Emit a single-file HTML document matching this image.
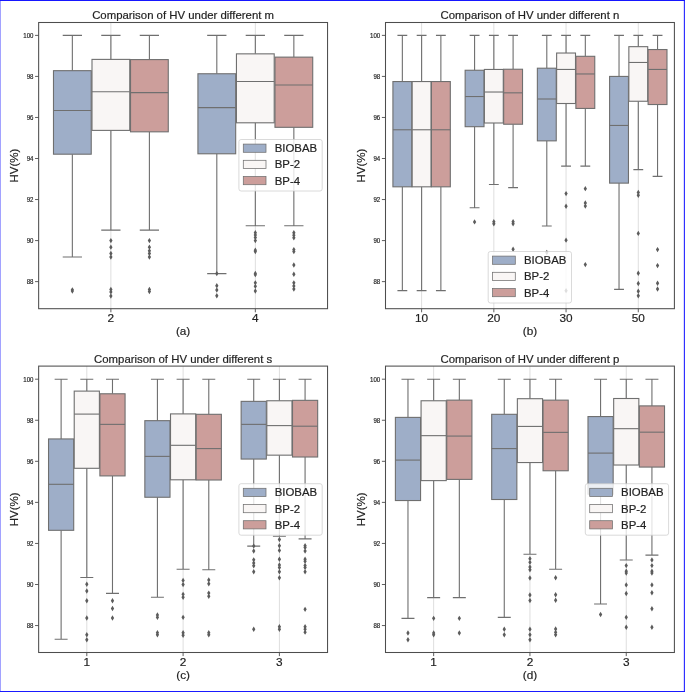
<!DOCTYPE html>
<html lang="en"><head><meta charset="utf-8"><title>Comparison of HV</title>
<style>html,body{margin:0;padding:0;background:#fff;}body{width:685px;height:692px;overflow:hidden;}svg{display:block;}text{font-family:"Liberation Sans", sans-serif;fill:#222222;stroke:#222222;stroke-width:0.18px;}</style>
</head><body>
<svg width="685" height="692" viewBox="0 0 685 692">
<rect x="0" y="0" width="685" height="692" fill="#ffffff"/>
<rect x="0" y="0" width="1" height="692" fill="#a2a2ff"/>
<rect x="684" y="0" width="1" height="692" fill="#3030ff"/>
<rect x="683.5" y="0" width="0.5" height="692" fill="#3030ff" opacity="0.35"/>
<rect x="0" y="0" width="685" height="1" fill="#1616ff"/>
<rect x="0" y="691" width="685" height="1" fill="#1a1aff"/>
<g id="panel-a">
<line x1="110.88" y1="22.5" x2="110.88" y2="308.7" stroke="#dedede" stroke-width="1"/>
<line x1="255.33" y1="22.5" x2="255.33" y2="308.7" stroke="#dedede" stroke-width="1"/>
<path d="M72.35 35.38V70.67M72.35 154.19V257M62.72 35.38H81.99M62.72 257H81.99" fill="none" stroke="#6f6f6f" stroke-width="1.1"/><rect x="53.48" y="70.67" width="37.75" height="83.52" fill="#9eaec8" stroke="#6f6f6f" stroke-width="1.1"/><line x1="53.48" y1="110.48" x2="91.23" y2="110.48" stroke="#6f6f6f" stroke-width="1.1"/><path d="M72.35 287.13l1.65 2.7l-1.65 2.7l-1.65 -2.7zM72.35 288.36l1.65 2.7l-1.65 2.7l-1.65 -2.7z" fill="#5c5c5c"/>
<path d="M110.88 35.38V59.39M110.88 130.39V230.11M101.24 35.38H120.51M101.24 230.11H120.51" fill="none" stroke="#6f6f6f" stroke-width="1.1"/><rect x="92" y="59.39" width="37.75" height="71" fill="#f9f6f5" stroke="#6f6f6f" stroke-width="1.1"/><line x1="92" y1="91.81" x2="129.75" y2="91.81" stroke="#6f6f6f" stroke-width="1.1"/><path d="M110.88 237.88l1.65 2.7l-1.65 2.7l-1.65 -2.7zM110.88 244.45l1.65 2.7l-1.65 2.7l-1.65 -2.7zM110.88 250.81l1.65 2.7l-1.65 2.7l-1.65 -2.7zM110.88 254.3l1.65 2.7l-1.65 2.7l-1.65 -2.7zM110.88 286.72l1.65 2.7l-1.65 2.7l-1.65 -2.7zM110.88 289.18l1.65 2.7l-1.65 2.7l-1.65 -2.7zM110.88 293.28l1.65 2.7l-1.65 2.7l-1.65 -2.7z" fill="#5c5c5c"/>
<path d="M149.4 35.38V59.59M149.4 131.82V230.11M139.76 35.38H159.03M139.76 230.11H159.03" fill="none" stroke="#6f6f6f" stroke-width="1.1"/><rect x="130.52" y="59.59" width="37.75" height="72.23" fill="#cc9e9b" stroke="#6f6f6f" stroke-width="1.1"/><line x1="130.52" y1="92.63" x2="168.27" y2="92.63" stroke="#6f6f6f" stroke-width="1.1"/><path d="M149.4 237.88l1.65 2.7l-1.65 2.7l-1.65 -2.7zM149.4 244.45l1.65 2.7l-1.65 2.7l-1.65 -2.7zM149.4 248.14l1.65 2.7l-1.65 2.7l-1.65 -2.7zM149.4 250.81l1.65 2.7l-1.65 2.7l-1.65 -2.7zM149.4 254.3l1.65 2.7l-1.65 2.7l-1.65 -2.7zM149.4 286.72l1.65 2.7l-1.65 2.7l-1.65 -2.7zM149.4 288.77l1.65 2.7l-1.65 2.7l-1.65 -2.7z" fill="#5c5c5c"/>
<path d="M216.81 35.38V73.75M216.81 153.78V273.62M207.17 35.38H226.44M207.17 273.62H226.44" fill="none" stroke="#6f6f6f" stroke-width="1.1"/><rect x="197.93" y="73.75" width="37.75" height="80.03" fill="#9eaec8" stroke="#6f6f6f" stroke-width="1.1"/><line x1="197.93" y1="107.61" x2="235.68" y2="107.61" stroke="#6f6f6f" stroke-width="1.1"/><path d="M216.81 270.92l1.65 2.7l-1.65 2.7l-1.65 -2.7zM216.81 283.02l1.65 2.7l-1.65 2.7l-1.65 -2.7zM216.81 287.33l1.65 2.7l-1.65 2.7l-1.65 -2.7zM216.81 293.08l1.65 2.7l-1.65 2.7l-1.65 -2.7z" fill="#5c5c5c"/>
<path d="M255.33 35.38V53.85M255.33 122.8V225.81M245.69 35.38H264.96M245.69 225.81H264.96" fill="none" stroke="#6f6f6f" stroke-width="1.1"/><rect x="236.45" y="53.85" width="37.75" height="68.95" fill="#f9f6f5" stroke="#6f6f6f" stroke-width="1.1"/><line x1="236.45" y1="81.55" x2="274.2" y2="81.55" stroke="#6f6f6f" stroke-width="1.1"/><path d="M255.33 230.08l1.65 2.7l-1.65 2.7l-1.65 -2.7zM255.33 232.34l1.65 2.7l-1.65 2.7l-1.65 -2.7zM255.33 234.8l1.65 2.7l-1.65 2.7l-1.65 -2.7zM255.33 237.88l1.65 2.7l-1.65 2.7l-1.65 -2.7zM255.33 247.52l1.65 2.7l-1.65 2.7l-1.65 -2.7zM255.33 248.76l1.65 2.7l-1.65 2.7l-1.65 -2.7zM255.33 270.71l1.65 2.7l-1.65 2.7l-1.65 -2.7zM255.33 271.94l1.65 2.7l-1.65 2.7l-1.65 -2.7zM255.33 280.15l1.65 2.7l-1.65 2.7l-1.65 -2.7zM255.33 283.64l1.65 2.7l-1.65 2.7l-1.65 -2.7zM255.33 288.36l1.65 2.7l-1.65 2.7l-1.65 -2.7z" fill="#5c5c5c"/>
<path d="M293.85 35.38V57.13M293.85 127.31V225.81M284.21 35.38H303.48M284.21 225.81H303.48" fill="none" stroke="#6f6f6f" stroke-width="1.1"/><rect x="274.97" y="57.13" width="37.75" height="70.18" fill="#cc9e9b" stroke="#6f6f6f" stroke-width="1.1"/><line x1="274.97" y1="85.04" x2="312.72" y2="85.04" stroke="#6f6f6f" stroke-width="1.1"/><path d="M293.85 230.08l1.65 2.7l-1.65 2.7l-1.65 -2.7zM293.85 232.54l1.65 2.7l-1.65 2.7l-1.65 -2.7zM293.85 235.01l1.65 2.7l-1.65 2.7l-1.65 -2.7zM293.85 246.91l1.65 2.7l-1.65 2.7l-1.65 -2.7zM293.85 248.76l1.65 2.7l-1.65 2.7l-1.65 -2.7zM293.85 262.3l1.65 2.7l-1.65 2.7l-1.65 -2.7zM293.85 271.53l1.65 2.7l-1.65 2.7l-1.65 -2.7zM293.85 280.15l1.65 2.7l-1.65 2.7l-1.65 -2.7zM293.85 283.23l1.65 2.7l-1.65 2.7l-1.65 -2.7zM293.85 286.31l1.65 2.7l-1.65 2.7l-1.65 -2.7z" fill="#5c5c5c"/>
<rect x="38.65" y="22.5" width="288.9" height="286.2" fill="none" stroke="#4d4d4d" stroke-width="1.05"/>
<path d="M38.65 281.62h-3.6M38.65 240.58h-3.6M38.65 199.54h-3.6M38.65 158.5h-3.6M38.65 117.46h-3.6M38.65 76.42h-3.6M38.65 35.38h-3.6M110.88 308.7v3.6M255.33 308.7v3.6" fill="none" stroke="#4d4d4d" stroke-width="0.9"/>
<text transform="translate(33.4 283.92) scale(0.89 1)" font-size="6.85" text-anchor="end">88</text>
<text transform="translate(33.4 242.88) scale(0.89 1)" font-size="6.85" text-anchor="end">90</text>
<text transform="translate(33.4 201.84) scale(0.89 1)" font-size="6.85" text-anchor="end">92</text>
<text transform="translate(33.4 160.8) scale(0.89 1)" font-size="6.85" text-anchor="end">94</text>
<text transform="translate(33.4 119.76) scale(0.89 1)" font-size="6.85" text-anchor="end">96</text>
<text transform="translate(33.4 78.72) scale(0.89 1)" font-size="6.85" text-anchor="end">98</text>
<text transform="translate(33.4 37.68) scale(0.89 1)" font-size="6.85" text-anchor="end">100</text>
<text x="110.88" y="322.4" font-size="11.8" text-anchor="middle">2</text>
<text x="255.33" y="322.4" font-size="11.8" text-anchor="middle">4</text>
<text x="183.1" y="18.9" font-size="11.38" text-anchor="middle">Comparison of HV under different m</text>
<text x="183.1" y="335.2" font-size="11.8" text-anchor="middle">(a)</text>
<text transform="translate(18.15 165.6) rotate(-90)" font-size="11.5" text-anchor="middle">HV(%)</text>
<rect x="238.9" y="139.5" width="83.3" height="51.5" rx="2.2" ry="2.2" fill="#ffffff" fill-opacity="0.8" stroke="#cccccc" stroke-opacity="0.8" stroke-width="0.9"/>
<rect x="243.3" y="144.1" width="22.7" height="8.2" fill="#9eaec8" stroke="#6f6f6f" stroke-width="0.75"/>
<text x="274.7" y="152.15" font-size="11.4">BIOBAB</text>
<rect x="243.3" y="160.3" width="22.7" height="8.2" fill="#f9f6f5" stroke="#6f6f6f" stroke-width="0.75"/>
<text x="274.7" y="168.35" font-size="11.4">BP-2</text>
<rect x="243.3" y="176.5" width="22.7" height="8.2" fill="#cc9e9b" stroke="#6f6f6f" stroke-width="0.75"/>
<text x="274.7" y="184.55" font-size="11.4">BP-4</text>
</g>
<g id="panel-b">
<line x1="421.61" y1="22.5" x2="421.61" y2="308.7" stroke="#dedede" stroke-width="1"/>
<line x1="493.84" y1="22.5" x2="493.84" y2="308.7" stroke="#dedede" stroke-width="1"/>
<line x1="566.06" y1="22.5" x2="566.06" y2="308.7" stroke="#dedede" stroke-width="1"/>
<line x1="638.29" y1="22.5" x2="638.29" y2="308.7" stroke="#dedede" stroke-width="1"/>
<path d="M402.35 35.38V81.55M402.35 186.82V290.65M397.43 35.38H407.27M397.43 290.65H407.27" fill="none" stroke="#6f6f6f" stroke-width="1.1"/><rect x="392.92" y="81.55" width="18.87" height="105.27" fill="#9eaec8" stroke="#6f6f6f" stroke-width="1.1"/><line x1="392.92" y1="129.77" x2="411.79" y2="129.77" stroke="#6f6f6f" stroke-width="1.1"/>
<path d="M421.61 35.38V81.55M421.61 186.82V290.65M416.69 35.38H426.53M416.69 290.65H426.53" fill="none" stroke="#6f6f6f" stroke-width="1.1"/><rect x="412.18" y="81.55" width="18.87" height="105.27" fill="#f9f6f5" stroke="#6f6f6f" stroke-width="1.1"/><line x1="412.18" y1="129.77" x2="431.05" y2="129.77" stroke="#6f6f6f" stroke-width="1.1"/>
<path d="M440.87 35.38V81.55M440.87 186.82V290.65M435.95 35.38H445.79M435.95 290.65H445.79" fill="none" stroke="#6f6f6f" stroke-width="1.1"/><rect x="431.44" y="81.55" width="18.87" height="105.27" fill="#cc9e9b" stroke="#6f6f6f" stroke-width="1.1"/><line x1="431.44" y1="129.77" x2="450.31" y2="129.77" stroke="#6f6f6f" stroke-width="1.1"/>
<path d="M474.58 35.38V70.26M474.58 126.69V207.75M469.66 35.38H479.5M469.66 207.75H479.5" fill="none" stroke="#6f6f6f" stroke-width="1.1"/><rect x="465.14" y="70.26" width="18.87" height="56.43" fill="#9eaec8" stroke="#6f6f6f" stroke-width="1.1"/><line x1="465.14" y1="96.53" x2="484.01" y2="96.53" stroke="#6f6f6f" stroke-width="1.1"/><path d="M474.58 219.21l1.65 2.7l-1.65 2.7l-1.65 -2.7z" fill="#5c5c5c"/>
<path d="M493.84 35.38V69.44M493.84 123V184.56M488.92 35.38H498.76M488.92 184.56H498.76" fill="none" stroke="#6f6f6f" stroke-width="1.1"/><rect x="484.4" y="69.44" width="18.87" height="53.56" fill="#f9f6f5" stroke="#6f6f6f" stroke-width="1.1"/><line x1="484.4" y1="92.02" x2="503.27" y2="92.02" stroke="#6f6f6f" stroke-width="1.1"/><path d="M493.84 219l1.65 2.7l-1.65 2.7l-1.65 -2.7zM493.84 221.05l1.65 2.7l-1.65 2.7l-1.65 -2.7z" fill="#5c5c5c"/>
<path d="M513.1 35.38V69.24M513.1 124.23V187.64M508.18 35.38H518.02M508.18 187.64H518.02" fill="none" stroke="#6f6f6f" stroke-width="1.1"/><rect x="503.66" y="69.24" width="18.87" height="54.99" fill="#cc9e9b" stroke="#6f6f6f" stroke-width="1.1"/><line x1="503.66" y1="92.84" x2="522.53" y2="92.84" stroke="#6f6f6f" stroke-width="1.1"/><path d="M513.1 219l1.65 2.7l-1.65 2.7l-1.65 -2.7zM513.1 221.05l1.65 2.7l-1.65 2.7l-1.65 -2.7zM513.1 246.5l1.65 2.7l-1.65 2.7l-1.65 -2.7z" fill="#5c5c5c"/>
<path d="M546.8 35.38V68.21M546.8 140.85V226.01M541.88 35.38H551.72M541.88 226.01H551.72" fill="none" stroke="#6f6f6f" stroke-width="1.1"/><rect x="537.37" y="68.21" width="18.87" height="72.64" fill="#9eaec8" stroke="#6f6f6f" stroke-width="1.1"/><line x1="537.37" y1="98.99" x2="556.24" y2="98.99" stroke="#6f6f6f" stroke-width="1.1"/><path d="M546.8 249.78l1.65 2.7l-1.65 2.7l-1.65 -2.7zM546.8 293.28l1.65 2.7l-1.65 2.7l-1.65 -2.7z" fill="#5c5c5c"/>
<path d="M566.06 35.38V53.03M566.06 103.51V166.09M561.14 35.38H570.98M561.14 166.09H570.98" fill="none" stroke="#6f6f6f" stroke-width="1.1"/><rect x="556.63" y="53.03" width="18.87" height="50.48" fill="#f9f6f5" stroke="#6f6f6f" stroke-width="1.1"/><line x1="556.63" y1="69.44" x2="575.5" y2="69.44" stroke="#6f6f6f" stroke-width="1.1"/><path d="M566.06 190.89l1.65 2.7l-1.65 2.7l-1.65 -2.7zM566.06 203.61l1.65 2.7l-1.65 2.7l-1.65 -2.7zM566.06 237.47l1.65 2.7l-1.65 2.7l-1.65 -2.7zM566.06 287.95l1.65 2.7l-1.65 2.7l-1.65 -2.7z" fill="#5c5c5c"/>
<path d="M585.32 35.38V56.31M585.32 108.43V166.09M580.4 35.38H590.24M580.4 166.09H590.24" fill="none" stroke="#6f6f6f" stroke-width="1.1"/><rect x="575.89" y="56.31" width="18.87" height="52.12" fill="#cc9e9b" stroke="#6f6f6f" stroke-width="1.1"/><line x1="575.89" y1="73.96" x2="594.76" y2="73.96" stroke="#6f6f6f" stroke-width="1.1"/><path d="M585.32 185.96l1.65 2.7l-1.65 2.7l-1.65 -2.7zM585.32 200.33l1.65 2.7l-1.65 2.7l-1.65 -2.7zM585.32 203.41l1.65 2.7l-1.65 2.7l-1.65 -2.7zM585.32 261.89l1.65 2.7l-1.65 2.7l-1.65 -2.7z" fill="#5c5c5c"/>
<path d="M619.03 35.38V76.42M619.03 183.12V289.42M614.11 35.38H623.95M614.11 289.42H623.95" fill="none" stroke="#6f6f6f" stroke-width="1.1"/><rect x="609.59" y="76.42" width="18.87" height="106.7" fill="#9eaec8" stroke="#6f6f6f" stroke-width="1.1"/><line x1="609.59" y1="125.46" x2="628.46" y2="125.46" stroke="#6f6f6f" stroke-width="1.1"/>
<path d="M638.29 35.38V46.67M638.29 101.25V169.58M633.37 35.38H643.21M633.37 169.58H643.21" fill="none" stroke="#6f6f6f" stroke-width="1.1"/><rect x="628.85" y="46.67" width="18.87" height="54.58" fill="#f9f6f5" stroke="#6f6f6f" stroke-width="1.1"/><line x1="628.85" y1="62.47" x2="647.72" y2="62.47" stroke="#6f6f6f" stroke-width="1.1"/><path d="M638.29 189.86l1.65 2.7l-1.65 2.7l-1.65 -2.7zM638.29 192.53l1.65 2.7l-1.65 2.7l-1.65 -2.7zM638.29 230.7l1.65 2.7l-1.65 2.7l-1.65 -2.7zM638.29 270.51l1.65 2.7l-1.65 2.7l-1.65 -2.7zM638.29 280.77l1.65 2.7l-1.65 2.7l-1.65 -2.7zM638.29 288.56l1.65 2.7l-1.65 2.7l-1.65 -2.7zM638.29 293.08l1.65 2.7l-1.65 2.7l-1.65 -2.7z" fill="#5c5c5c"/>
<path d="M657.55 35.38V49.54M657.55 104.53V176.35M652.63 35.38H662.47M652.63 176.35H662.47" fill="none" stroke="#6f6f6f" stroke-width="1.1"/><rect x="648.11" y="49.54" width="18.87" height="54.99" fill="#cc9e9b" stroke="#6f6f6f" stroke-width="1.1"/><line x1="648.11" y1="69.44" x2="666.98" y2="69.44" stroke="#6f6f6f" stroke-width="1.1"/><path d="M657.55 246.91l1.65 2.7l-1.65 2.7l-1.65 -2.7zM657.55 262.91l1.65 2.7l-1.65 2.7l-1.65 -2.7zM657.55 280.56l1.65 2.7l-1.65 2.7l-1.65 -2.7zM657.55 286.31l1.65 2.7l-1.65 2.7l-1.65 -2.7z" fill="#5c5c5c"/>
<rect x="385.5" y="22.5" width="288.9" height="286.2" fill="none" stroke="#4d4d4d" stroke-width="1.05"/>
<path d="M385.5 281.62h-3.6M385.5 240.58h-3.6M385.5 199.54h-3.6M385.5 158.5h-3.6M385.5 117.46h-3.6M385.5 76.42h-3.6M385.5 35.38h-3.6M421.61 308.7v3.6M493.84 308.7v3.6M566.06 308.7v3.6M638.29 308.7v3.6" fill="none" stroke="#4d4d4d" stroke-width="0.9"/>
<text transform="translate(380.25 283.92) scale(0.89 1)" font-size="6.85" text-anchor="end">88</text>
<text transform="translate(380.25 242.88) scale(0.89 1)" font-size="6.85" text-anchor="end">90</text>
<text transform="translate(380.25 201.84) scale(0.89 1)" font-size="6.85" text-anchor="end">92</text>
<text transform="translate(380.25 160.8) scale(0.89 1)" font-size="6.85" text-anchor="end">94</text>
<text transform="translate(380.25 119.76) scale(0.89 1)" font-size="6.85" text-anchor="end">96</text>
<text transform="translate(380.25 78.72) scale(0.89 1)" font-size="6.85" text-anchor="end">98</text>
<text transform="translate(380.25 37.68) scale(0.89 1)" font-size="6.85" text-anchor="end">100</text>
<text x="421.61" y="322.4" font-size="11.8" text-anchor="middle">10</text>
<text x="493.84" y="322.4" font-size="11.8" text-anchor="middle">20</text>
<text x="566.06" y="322.4" font-size="11.8" text-anchor="middle">30</text>
<text x="638.29" y="322.4" font-size="11.8" text-anchor="middle">50</text>
<text x="529.95" y="18.9" font-size="11.38" text-anchor="middle">Comparison of HV under different n</text>
<text x="529.95" y="335.2" font-size="11.8" text-anchor="middle">(b)</text>
<text transform="translate(365 165.6) rotate(-90)" font-size="11.5" text-anchor="middle">HV(%)</text>
<rect x="488.2" y="251.5" width="83.3" height="51.5" rx="2.2" ry="2.2" fill="#ffffff" fill-opacity="0.8" stroke="#cccccc" stroke-opacity="0.8" stroke-width="0.9"/>
<rect x="492.6" y="256.1" width="22.7" height="8.2" fill="#9eaec8" stroke="#6f6f6f" stroke-width="0.75"/>
<text x="524" y="264.15" font-size="11.4">BIOBAB</text>
<rect x="492.6" y="272.3" width="22.7" height="8.2" fill="#f9f6f5" stroke="#6f6f6f" stroke-width="0.75"/>
<text x="524" y="280.35" font-size="11.4">BP-2</text>
<rect x="492.6" y="288.5" width="22.7" height="8.2" fill="#cc9e9b" stroke="#6f6f6f" stroke-width="0.75"/>
<text x="524" y="296.55" font-size="11.4">BP-4</text>
</g>
<g id="panel-c">
<line x1="86.8" y1="366.1" x2="86.8" y2="652.5" stroke="#dedede" stroke-width="1"/>
<line x1="183.1" y1="366.1" x2="183.1" y2="652.5" stroke="#dedede" stroke-width="1"/>
<line x1="279.4" y1="366.1" x2="279.4" y2="652.5" stroke="#dedede" stroke-width="1"/>
<path d="M61.12 379.2V438.94M61.12 530.3V639.32M54.63 379.2H67.61M54.63 639.32H67.61" fill="none" stroke="#6f6f6f" stroke-width="1.1"/><rect x="48.54" y="438.94" width="25.17" height="91.36" fill="#9eaec8" stroke="#6f6f6f" stroke-width="1.1"/><line x1="48.54" y1="484.31" x2="73.7" y2="484.31" stroke="#6f6f6f" stroke-width="1.1"/>
<path d="M86.8 379.2V391.11M86.8 468.3V577.52M80.31 379.2H93.29M80.31 577.52H93.29" fill="none" stroke="#6f6f6f" stroke-width="1.1"/><rect x="74.22" y="391.11" width="25.17" height="77.19" fill="#f9f6f5" stroke="#6f6f6f" stroke-width="1.1"/><line x1="74.22" y1="414.1" x2="99.38" y2="414.1" stroke="#6f6f6f" stroke-width="1.1"/><path d="M86.8 581.59l1.65 2.7l-1.65 2.7l-1.65 -2.7zM86.8 588.37l1.65 2.7l-1.65 2.7l-1.65 -2.7zM86.8 598.02l1.65 2.7l-1.65 2.7l-1.65 -2.7zM86.8 615.26l1.65 2.7l-1.65 2.7l-1.65 -2.7zM86.8 632.1l1.65 2.7l-1.65 2.7l-1.65 -2.7zM86.8 637.03l1.65 2.7l-1.65 2.7l-1.65 -2.7z" fill="#5c5c5c"/>
<path d="M112.48 379.2V393.78M112.48 475.9V593.33M105.99 379.2H118.97M105.99 593.33H118.97" fill="none" stroke="#6f6f6f" stroke-width="1.1"/><rect x="99.9" y="393.78" width="25.17" height="82.12" fill="#cc9e9b" stroke="#6f6f6f" stroke-width="1.1"/><line x1="99.9" y1="424.37" x2="125.06" y2="424.37" stroke="#6f6f6f" stroke-width="1.1"/><path d="M112.48 598.02l1.65 2.7l-1.65 2.7l-1.65 -2.7zM112.48 605.82l1.65 2.7l-1.65 2.7l-1.65 -2.7zM112.48 615.26l1.65 2.7l-1.65 2.7l-1.65 -2.7z" fill="#5c5c5c"/>
<path d="M157.42 379.2V420.67M157.42 497.25V597.23M150.93 379.2H163.91M150.93 597.23H163.91" fill="none" stroke="#6f6f6f" stroke-width="1.1"/><rect x="144.84" y="420.67" width="25.17" height="76.58" fill="#9eaec8" stroke="#6f6f6f" stroke-width="1.1"/><line x1="144.84" y1="456.39" x2="170" y2="456.39" stroke="#6f6f6f" stroke-width="1.1"/><path d="M157.42 612.18l1.65 2.7l-1.65 2.7l-1.65 -2.7zM157.42 614.65l1.65 2.7l-1.65 2.7l-1.65 -2.7zM157.42 630.05l1.65 2.7l-1.65 2.7l-1.65 -2.7zM157.42 632.1l1.65 2.7l-1.65 2.7l-1.65 -2.7z" fill="#5c5c5c"/>
<path d="M183.1 379.2V413.9M183.1 479.8V569.31M176.61 379.2H189.59M176.61 569.31H189.59" fill="none" stroke="#6f6f6f" stroke-width="1.1"/><rect x="170.52" y="413.9" width="25.17" height="65.9" fill="#f9f6f5" stroke="#6f6f6f" stroke-width="1.1"/><line x1="170.52" y1="445.31" x2="195.68" y2="445.31" stroke="#6f6f6f" stroke-width="1.1"/><path d="M183.1 577.69l1.65 2.7l-1.65 2.7l-1.65 -2.7zM183.1 581.8l1.65 2.7l-1.65 2.7l-1.65 -2.7zM183.1 591.65l1.65 2.7l-1.65 2.7l-1.65 -2.7zM183.1 594.53l1.65 2.7l-1.65 2.7l-1.65 -2.7zM183.1 614.65l1.65 2.7l-1.65 2.7l-1.65 -2.7zM183.1 630.05l1.65 2.7l-1.65 2.7l-1.65 -2.7zM183.1 632.51l1.65 2.7l-1.65 2.7l-1.65 -2.7z" fill="#5c5c5c"/>
<path d="M208.78 379.2V414.31M208.78 480V569.72M202.29 379.2H215.27M202.29 569.72H215.27" fill="none" stroke="#6f6f6f" stroke-width="1.1"/><rect x="196.2" y="414.31" width="25.17" height="65.7" fill="#cc9e9b" stroke="#6f6f6f" stroke-width="1.1"/><line x1="196.2" y1="448.59" x2="221.36" y2="448.59" stroke="#6f6f6f" stroke-width="1.1"/><path d="M208.78 577.28l1.65 2.7l-1.65 2.7l-1.65 -2.7zM208.78 580.98l1.65 2.7l-1.65 2.7l-1.65 -2.7zM208.78 590.42l1.65 2.7l-1.65 2.7l-1.65 -2.7zM208.78 593.5l1.65 2.7l-1.65 2.7l-1.65 -2.7zM208.78 630.05l1.65 2.7l-1.65 2.7l-1.65 -2.7zM208.78 632.1l1.65 2.7l-1.65 2.7l-1.65 -2.7z" fill="#5c5c5c"/>
<path d="M253.72 379.2V401.37M253.72 459.06V546.11M247.23 379.2H260.21M247.23 546.11H260.21" fill="none" stroke="#6f6f6f" stroke-width="1.1"/><rect x="241.14" y="401.37" width="25.17" height="57.69" fill="#9eaec8" stroke="#6f6f6f" stroke-width="1.1"/><line x1="241.14" y1="424.37" x2="266.3" y2="424.37" stroke="#6f6f6f" stroke-width="1.1"/><path d="M253.72 543.41l1.65 2.7l-1.65 2.7l-1.65 -2.7zM253.72 548.34l1.65 2.7l-1.65 2.7l-1.65 -2.7zM253.72 557.16l1.65 2.7l-1.65 2.7l-1.65 -2.7zM253.72 560.24l1.65 2.7l-1.65 2.7l-1.65 -2.7zM253.72 563.12l1.65 2.7l-1.65 2.7l-1.65 -2.7zM253.72 569.07l1.65 2.7l-1.65 2.7l-1.65 -2.7zM253.72 626.56l1.65 2.7l-1.65 2.7l-1.65 -2.7z" fill="#5c5c5c"/>
<path d="M279.4 379.2V400.76M279.4 455.16V536.25M272.91 379.2H285.89M272.91 536.25H285.89" fill="none" stroke="#6f6f6f" stroke-width="1.1"/><rect x="266.82" y="400.76" width="25.17" height="54.4" fill="#f9f6f5" stroke="#6f6f6f" stroke-width="1.1"/><line x1="266.82" y1="425.6" x2="291.98" y2="425.6" stroke="#6f6f6f" stroke-width="1.1"/><path d="M279.4 536.84l1.65 2.7l-1.65 2.7l-1.65 -2.7zM279.4 543l1.65 2.7l-1.65 2.7l-1.65 -2.7zM279.4 547.72l1.65 2.7l-1.65 2.7l-1.65 -2.7zM279.4 556.55l1.65 2.7l-1.65 2.7l-1.65 -2.7zM279.4 562.3l1.65 2.7l-1.65 2.7l-1.65 -2.7zM279.4 564.76l1.65 2.7l-1.65 2.7l-1.65 -2.7zM279.4 569.07l1.65 2.7l-1.65 2.7l-1.65 -2.7zM279.4 575.03l1.65 2.7l-1.65 2.7l-1.65 -2.7zM279.4 624.09l1.65 2.7l-1.65 2.7l-1.65 -2.7zM279.4 626.56l1.65 2.7l-1.65 2.7l-1.65 -2.7z" fill="#5c5c5c"/>
<path d="M305.08 379.2V400.35M305.08 457.01V538.92M298.59 379.2H311.57M298.59 538.92H311.57" fill="none" stroke="#6f6f6f" stroke-width="1.1"/><rect x="292.5" y="400.35" width="25.17" height="56.66" fill="#cc9e9b" stroke="#6f6f6f" stroke-width="1.1"/><line x1="292.5" y1="426.21" x2="317.66" y2="426.21" stroke="#6f6f6f" stroke-width="1.1"/><path d="M305.08 543l1.65 2.7l-1.65 2.7l-1.65 -2.7zM305.08 544.85l1.65 2.7l-1.65 2.7l-1.65 -2.7zM305.08 548.34l1.65 2.7l-1.65 2.7l-1.65 -2.7zM305.08 556.55l1.65 2.7l-1.65 2.7l-1.65 -2.7zM305.08 558.6l1.65 2.7l-1.65 2.7l-1.65 -2.7zM305.08 562.71l1.65 2.7l-1.65 2.7l-1.65 -2.7zM305.08 564.76l1.65 2.7l-1.65 2.7l-1.65 -2.7zM305.08 569.07l1.65 2.7l-1.65 2.7l-1.65 -2.7zM305.08 606.64l1.65 2.7l-1.65 2.7l-1.65 -2.7zM305.08 624.09l1.65 2.7l-1.65 2.7l-1.65 -2.7zM305.08 626.56l1.65 2.7l-1.65 2.7l-1.65 -2.7zM305.08 629.43l1.65 2.7l-1.65 2.7l-1.65 -2.7z" fill="#5c5c5c"/>
<rect x="38.65" y="366.1" width="288.9" height="286.4" fill="none" stroke="#4d4d4d" stroke-width="1.05"/>
<path d="M38.65 625.56h-3.6M38.65 584.5h-3.6M38.65 543.44h-3.6M38.65 502.38h-3.6M38.65 461.32h-3.6M38.65 420.26h-3.6M38.65 379.2h-3.6M86.8 652.5v3.6M183.1 652.5v3.6M279.4 652.5v3.6" fill="none" stroke="#4d4d4d" stroke-width="0.9"/>
<text transform="translate(33.4 627.86) scale(0.89 1)" font-size="6.85" text-anchor="end">88</text>
<text transform="translate(33.4 586.8) scale(0.89 1)" font-size="6.85" text-anchor="end">90</text>
<text transform="translate(33.4 545.74) scale(0.89 1)" font-size="6.85" text-anchor="end">92</text>
<text transform="translate(33.4 504.68) scale(0.89 1)" font-size="6.85" text-anchor="end">94</text>
<text transform="translate(33.4 463.62) scale(0.89 1)" font-size="6.85" text-anchor="end">96</text>
<text transform="translate(33.4 422.56) scale(0.89 1)" font-size="6.85" text-anchor="end">98</text>
<text transform="translate(33.4 381.5) scale(0.89 1)" font-size="6.85" text-anchor="end">100</text>
<text x="86.8" y="666.2" font-size="11.8" text-anchor="middle">1</text>
<text x="183.1" y="666.2" font-size="11.8" text-anchor="middle">2</text>
<text x="279.4" y="666.2" font-size="11.8" text-anchor="middle">3</text>
<text x="183.1" y="362.5" font-size="11.38" text-anchor="middle">Comparison of HV under different s</text>
<text x="183.1" y="679" font-size="11.8" text-anchor="middle">(c)</text>
<text transform="translate(18.15 509.3) rotate(-90)" font-size="11.5" text-anchor="middle">HV(%)</text>
<rect x="238.9" y="483.7" width="83.3" height="51.5" rx="2.2" ry="2.2" fill="#ffffff" fill-opacity="0.8" stroke="#cccccc" stroke-opacity="0.8" stroke-width="0.9"/>
<rect x="243.3" y="488.3" width="22.7" height="8.2" fill="#9eaec8" stroke="#6f6f6f" stroke-width="0.75"/>
<text x="274.7" y="496.35" font-size="11.4">BIOBAB</text>
<rect x="243.3" y="504.5" width="22.7" height="8.2" fill="#f9f6f5" stroke="#6f6f6f" stroke-width="0.75"/>
<text x="274.7" y="512.55" font-size="11.4">BP-2</text>
<rect x="243.3" y="520.7" width="22.7" height="8.2" fill="#cc9e9b" stroke="#6f6f6f" stroke-width="0.75"/>
<text x="274.7" y="528.75" font-size="11.4">BP-4</text>
</g>
<g id="panel-d">
<line x1="433.65" y1="366.1" x2="433.65" y2="652.5" stroke="#dedede" stroke-width="1"/>
<line x1="529.95" y1="366.1" x2="529.95" y2="652.5" stroke="#dedede" stroke-width="1"/>
<line x1="626.25" y1="366.1" x2="626.25" y2="652.5" stroke="#dedede" stroke-width="1"/>
<path d="M407.97 379.2V417.39M407.97 500.53V618.37M401.48 379.2H414.46M401.48 618.37H414.46" fill="none" stroke="#6f6f6f" stroke-width="1.1"/><rect x="395.39" y="417.39" width="25.17" height="83.15" fill="#9eaec8" stroke="#6f6f6f" stroke-width="1.1"/><line x1="395.39" y1="460.09" x2="420.55" y2="460.09" stroke="#6f6f6f" stroke-width="1.1"/><path d="M407.97 630.25l1.65 2.7l-1.65 2.7l-1.65 -2.7zM407.97 637.03l1.65 2.7l-1.65 2.7l-1.65 -2.7z" fill="#5c5c5c"/>
<path d="M433.65 379.2V400.76M433.65 480.62V597.64M427.16 379.2H440.14M427.16 597.64H440.14" fill="none" stroke="#6f6f6f" stroke-width="1.1"/><rect x="421.07" y="400.76" width="25.17" height="79.86" fill="#f9f6f5" stroke="#6f6f6f" stroke-width="1.1"/><line x1="421.07" y1="435.66" x2="446.23" y2="435.66" stroke="#6f6f6f" stroke-width="1.1"/><path d="M433.65 615.67l1.65 2.7l-1.65 2.7l-1.65 -2.7zM433.65 630.25l1.65 2.7l-1.65 2.7l-1.65 -2.7zM433.65 632.1l1.65 2.7l-1.65 2.7l-1.65 -2.7z" fill="#5c5c5c"/>
<path d="M459.33 379.2V400.14M459.33 479.39V597.64M452.84 379.2H465.82M452.84 597.64H465.82" fill="none" stroke="#6f6f6f" stroke-width="1.1"/><rect x="446.75" y="400.14" width="25.17" height="79.25" fill="#cc9e9b" stroke="#6f6f6f" stroke-width="1.1"/><line x1="446.75" y1="436.07" x2="471.91" y2="436.07" stroke="#6f6f6f" stroke-width="1.1"/><path d="M459.33 615.67l1.65 2.7l-1.65 2.7l-1.65 -2.7zM459.33 630.25l1.65 2.7l-1.65 2.7l-1.65 -2.7z" fill="#5c5c5c"/>
<path d="M504.27 379.2V414.31M504.27 499.51V617.35M497.78 379.2H510.76M497.78 617.35H510.76" fill="none" stroke="#6f6f6f" stroke-width="1.1"/><rect x="491.69" y="414.31" width="25.17" height="85.2" fill="#9eaec8" stroke="#6f6f6f" stroke-width="1.1"/><line x1="491.69" y1="448.59" x2="516.85" y2="448.59" stroke="#6f6f6f" stroke-width="1.1"/><path d="M504.27 626.56l1.65 2.7l-1.65 2.7l-1.65 -2.7zM504.27 632.1l1.65 2.7l-1.65 2.7l-1.65 -2.7z" fill="#5c5c5c"/>
<path d="M529.95 379.2V398.7M529.95 462.55V554.32M523.46 379.2H536.44M523.46 554.32H536.44" fill="none" stroke="#6f6f6f" stroke-width="1.1"/><rect x="517.37" y="398.7" width="25.17" height="63.85" fill="#f9f6f5" stroke="#6f6f6f" stroke-width="1.1"/><line x1="517.37" y1="426.42" x2="542.53" y2="426.42" stroke="#6f6f6f" stroke-width="1.1"/><path d="M529.95 555.93l1.65 2.7l-1.65 2.7l-1.65 -2.7zM529.95 559.63l1.65 2.7l-1.65 2.7l-1.65 -2.7zM529.95 564.35l1.65 2.7l-1.65 2.7l-1.65 -2.7zM529.95 567.02l1.65 2.7l-1.65 2.7l-1.65 -2.7zM529.95 575.23l1.65 2.7l-1.65 2.7l-1.65 -2.7zM529.95 592.27l1.65 2.7l-1.65 2.7l-1.65 -2.7zM529.95 597.81l1.65 2.7l-1.65 2.7l-1.65 -2.7zM529.95 626.56l1.65 2.7l-1.65 2.7l-1.65 -2.7zM529.95 632.1l1.65 2.7l-1.65 2.7l-1.65 -2.7zM529.95 637.03l1.65 2.7l-1.65 2.7l-1.65 -2.7z" fill="#5c5c5c"/>
<path d="M555.63 379.2V400.14M555.63 470.76V569.31M549.14 379.2H562.12M549.14 569.31H562.12" fill="none" stroke="#6f6f6f" stroke-width="1.1"/><rect x="543.05" y="400.14" width="25.17" height="70.62" fill="#cc9e9b" stroke="#6f6f6f" stroke-width="1.1"/><line x1="543.05" y1="432.37" x2="568.21" y2="432.37" stroke="#6f6f6f" stroke-width="1.1"/><path d="M555.63 575.03l1.65 2.7l-1.65 2.7l-1.65 -2.7zM555.63 592.06l1.65 2.7l-1.65 2.7l-1.65 -2.7zM555.63 597.61l1.65 2.7l-1.65 2.7l-1.65 -2.7zM555.63 626.35l1.65 2.7l-1.65 2.7l-1.65 -2.7zM555.63 629.63l1.65 2.7l-1.65 2.7l-1.65 -2.7zM555.63 632.1l1.65 2.7l-1.65 2.7l-1.65 -2.7z" fill="#5c5c5c"/>
<path d="M600.57 379.2V416.56M600.57 494.17V604M594.08 379.2H607.06M594.08 604H607.06" fill="none" stroke="#6f6f6f" stroke-width="1.1"/><rect x="587.99" y="416.56" width="25.17" height="77.6" fill="#9eaec8" stroke="#6f6f6f" stroke-width="1.1"/><line x1="587.99" y1="453.11" x2="613.15" y2="453.11" stroke="#6f6f6f" stroke-width="1.1"/><path d="M600.57 611.77l1.65 2.7l-1.65 2.7l-1.65 -2.7z" fill="#5c5c5c"/>
<path d="M626.25 379.2V398.5M626.25 465.02V560.07M619.76 379.2H632.74M619.76 560.07H632.74" fill="none" stroke="#6f6f6f" stroke-width="1.1"/><rect x="613.67" y="398.5" width="25.17" height="66.52" fill="#f9f6f5" stroke="#6f6f6f" stroke-width="1.1"/><line x1="613.67" y1="428.68" x2="638.83" y2="428.68" stroke="#6f6f6f" stroke-width="1.1"/><path d="M626.25 562.91l1.65 2.7l-1.65 2.7l-1.65 -2.7zM626.25 568.46l1.65 2.7l-1.65 2.7l-1.65 -2.7zM626.25 570.3l1.65 2.7l-1.65 2.7l-1.65 -2.7zM626.25 582.21l1.65 2.7l-1.65 2.7l-1.65 -2.7zM626.25 590.83l1.65 2.7l-1.65 2.7l-1.65 -2.7zM626.25 614.65l1.65 2.7l-1.65 2.7l-1.65 -2.7zM626.25 624.5l1.65 2.7l-1.65 2.7l-1.65 -2.7z" fill="#5c5c5c"/>
<path d="M651.93 379.2V405.89M651.93 467.07V555.14M645.44 379.2H658.42M645.44 555.14H658.42" fill="none" stroke="#6f6f6f" stroke-width="1.1"/><rect x="639.35" y="405.89" width="25.17" height="61.18" fill="#cc9e9b" stroke="#6f6f6f" stroke-width="1.1"/><line x1="639.35" y1="432.17" x2="664.51" y2="432.17" stroke="#6f6f6f" stroke-width="1.1"/><path d="M651.93 557.37l1.65 2.7l-1.65 2.7l-1.65 -2.7zM651.93 562.91l1.65 2.7l-1.65 2.7l-1.65 -2.7zM651.93 568.46l1.65 2.7l-1.65 2.7l-1.65 -2.7zM651.93 570.3l1.65 2.7l-1.65 2.7l-1.65 -2.7zM651.93 582.21l1.65 2.7l-1.65 2.7l-1.65 -2.7zM651.93 590.01l1.65 2.7l-1.65 2.7l-1.65 -2.7zM651.93 606.03l1.65 2.7l-1.65 2.7l-1.65 -2.7zM651.93 624.5l1.65 2.7l-1.65 2.7l-1.65 -2.7z" fill="#5c5c5c"/>
<rect x="385.5" y="366.1" width="288.9" height="286.4" fill="none" stroke="#4d4d4d" stroke-width="1.05"/>
<path d="M385.5 625.56h-3.6M385.5 584.5h-3.6M385.5 543.44h-3.6M385.5 502.38h-3.6M385.5 461.32h-3.6M385.5 420.26h-3.6M385.5 379.2h-3.6M433.65 652.5v3.6M529.95 652.5v3.6M626.25 652.5v3.6" fill="none" stroke="#4d4d4d" stroke-width="0.9"/>
<text transform="translate(380.25 627.86) scale(0.89 1)" font-size="6.85" text-anchor="end">88</text>
<text transform="translate(380.25 586.8) scale(0.89 1)" font-size="6.85" text-anchor="end">90</text>
<text transform="translate(380.25 545.74) scale(0.89 1)" font-size="6.85" text-anchor="end">92</text>
<text transform="translate(380.25 504.68) scale(0.89 1)" font-size="6.85" text-anchor="end">94</text>
<text transform="translate(380.25 463.62) scale(0.89 1)" font-size="6.85" text-anchor="end">96</text>
<text transform="translate(380.25 422.56) scale(0.89 1)" font-size="6.85" text-anchor="end">98</text>
<text transform="translate(380.25 381.5) scale(0.89 1)" font-size="6.85" text-anchor="end">100</text>
<text x="433.65" y="666.2" font-size="11.8" text-anchor="middle">1</text>
<text x="529.95" y="666.2" font-size="11.8" text-anchor="middle">2</text>
<text x="626.25" y="666.2" font-size="11.8" text-anchor="middle">3</text>
<text x="529.95" y="362.5" font-size="11.38" text-anchor="middle">Comparison of HV under different p</text>
<text x="529.95" y="679" font-size="11.8" text-anchor="middle">(d)</text>
<text transform="translate(365 509.3) rotate(-90)" font-size="11.5" text-anchor="middle">HV(%)</text>
<rect x="585.3" y="483.7" width="83.3" height="51.5" rx="2.2" ry="2.2" fill="#ffffff" fill-opacity="0.8" stroke="#cccccc" stroke-opacity="0.8" stroke-width="0.9"/>
<rect x="589.7" y="488.3" width="22.7" height="8.2" fill="#9eaec8" stroke="#6f6f6f" stroke-width="0.75"/>
<text x="621.1" y="496.35" font-size="11.4">BIOBAB</text>
<rect x="589.7" y="504.5" width="22.7" height="8.2" fill="#f9f6f5" stroke="#6f6f6f" stroke-width="0.75"/>
<text x="621.1" y="512.55" font-size="11.4">BP-2</text>
<rect x="589.7" y="520.7" width="22.7" height="8.2" fill="#cc9e9b" stroke="#6f6f6f" stroke-width="0.75"/>
<text x="621.1" y="528.75" font-size="11.4">BP-4</text>
</g>
</svg>
</body></html>
